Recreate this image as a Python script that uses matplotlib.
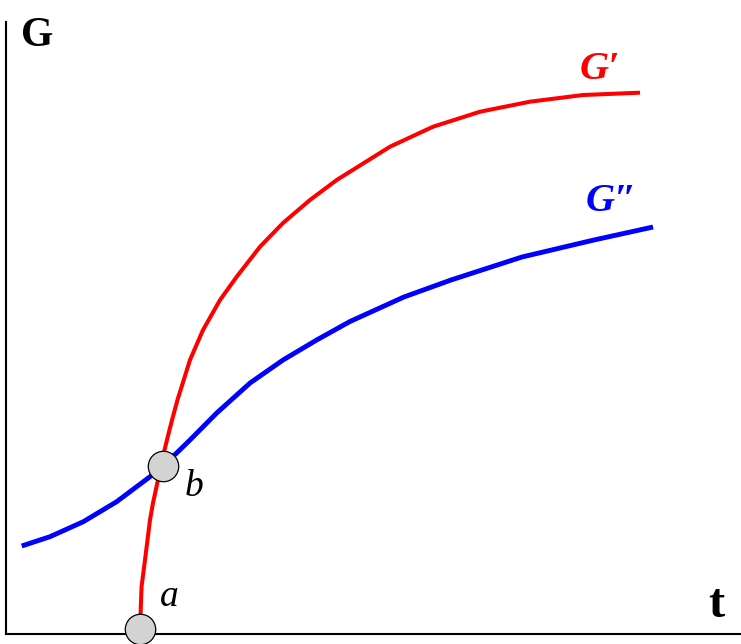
import matplotlib
matplotlib.use("Agg")
import matplotlib.pyplot as plt

# G' (storage modulus) curve
red_t = [1.823, 1.844, 1.891, 1.959, 2.000, 2.150, 2.201, 2.259, 2.333, 2.503,
         2.680, 2.912, 3.139, 3.456, 3.769, 4.136, 4.499, 5.224, 5.810,
         6.449, 7.129, 7.850, 8.626]
red_G = [0.065, 0.768, 1.209, 1.863, 2.141, 2.974, 3.224, 3.497, 3.824, 4.477,
         4.967, 5.458, 5.838, 6.328, 6.716, 7.092, 7.418, 7.962, 8.289,
         8.534, 8.698, 8.807, 8.845]

# G'' (loss modulus) curve
blue_t = [0.214, 0.599, 1.052, 1.506, 1.959, 2.322, 2.503, 2.867, 3.320, 3.769,
          4.227, 4.680, 5.415, 6.054, 7.020, 8.000, 8.803]
blue_G = [1.438, 1.590, 1.835, 2.162, 2.570, 2.958, 3.170, 3.611, 4.101, 4.477,
          4.804, 5.106, 5.507, 5.784, 6.160, 6.438, 6.650]

# marked points
pt_labels = ["a", "b"]
pt_t = [1.82, 2.14]
pt_G = [0.08, 2.75]

fig = plt.figure(figsize=(7.41, 6.44), dpi=100)
ax = fig.add_axes([6/741, 10/644, 735/741, 612/644])
ax.set_xlim(0, 10)
ax.set_ylim(0, 10)
for s in ["top", "right"]:
    ax.spines[s].set_visible(False)
for s in ["left", "bottom"]:
    ax.spines[s].set_linewidth(1.5)
ax.set_xticks([])
ax.set_yticks([])

serif = "Liberation Serif"
ax.plot(red_t, red_G, color="#ff0000", lw=2.9, solid_capstyle="butt",
        solid_joinstyle="round", zorder=3)
ax.plot(blue_t, blue_G, color="#0000ff", lw=3.5, solid_capstyle="butt",
        solid_joinstyle="round", zorder=2)
ax.scatter(pt_t, pt_G, s=480, facecolor="#d3d3d3", edgecolor="black",
           linewidth=0.9, zorder=5, clip_on=False)

ax.text(2.22, 0.605, pt_labels[0], family=serif, style="italic", fontsize=27,
        ha="center", va="center")
ax.text(2.56, 2.40, pt_labels[1], family=serif, style="italic", fontsize=27,
        ha="center", va="center")

ax.text(0.42, 9.77, "G", family=serif, weight="bold", fontsize=30,
        ha="center", va="center", clip_on=False)
ax.text(9.66, 0.474, "t", family=serif, weight="bold", fontsize=35,
        ha="center", va="center", clip_on=False)
ax.text(8.08, 9.23, "G\u2032", family=serif, weight="bold", style="italic",
        fontsize=29, color="#ff0000", ha="center", va="center")
ax.text(8.23, 7.07, "G\u2033", family=serif, weight="bold", style="italic",
        fontsize=29, color="#0000ff", ha="center", va="center")

fig.savefig("out.png", dpi=100)
